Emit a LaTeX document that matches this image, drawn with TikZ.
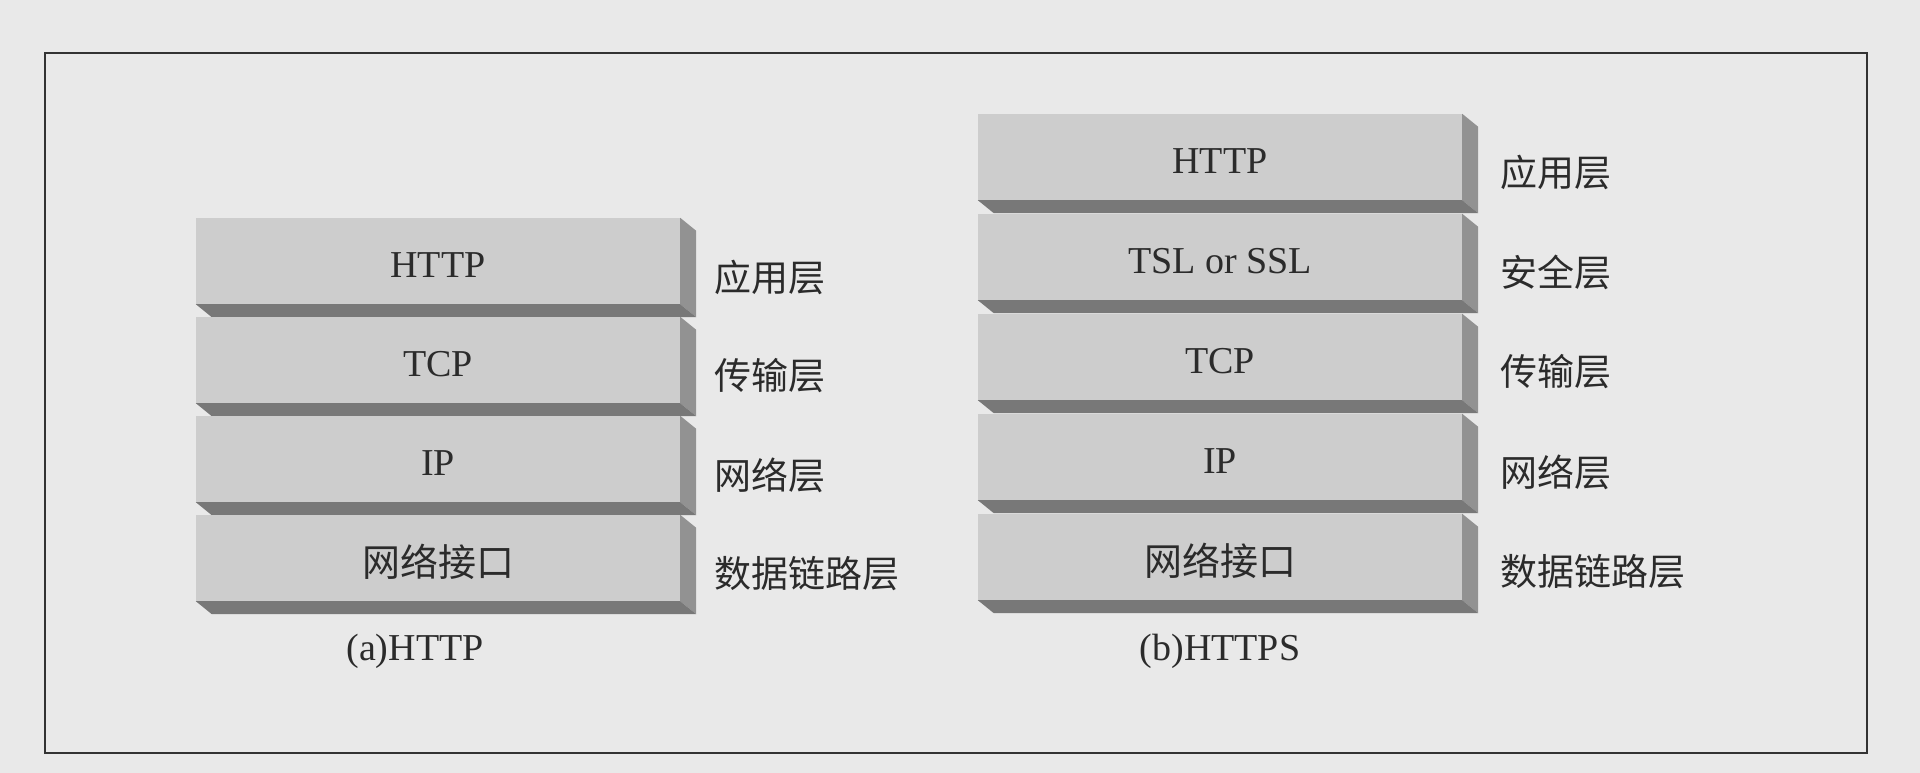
\documentclass[tikz,border=0pt]{standalone}
\usepackage{fontspec}
\setmainfont{Liberation Serif}
\newfontfamily\cjk{Noto Sans CJK SC}
\usetikzlibrary{calc}
\definecolor{paper}{HTML}{E9E9E9}
\definecolor{facec}{HTML}{CDCDCD}
\definecolor{sidec}{HTML}{929292}
\definecolor{botc}{HTML}{787878}
\definecolor{inkc}{HTML}{2B2B2B}
\definecolor{framec}{HTML}{333333}
\tikzset{
  layerbox/.style={fill=facec, minimum width=484pt, minimum height=86pt, inner sep=0pt,
    font=\fontsize{38}{40}\selectfont, text=inkc},
  layertext/.style={inner sep=0pt, font=\fontsize{38}{40}\selectfont, text=inkc},
  sideface/.style={fill=sidec},
  botface/.style={fill=botc},
  layerlabel/.style={anchor=west, inner sep=0pt, font=\cjk\fontsize{37}{40}\selectfont, text=inkc},
  caption/.style={inner sep=0pt, font=\fontsize{38}{40}\selectfont, text=inkc}
}
% #1 name, #2 x centre, #3 y centre, #4 text
\newcommand\drawlayer[4]{%
  \node[layerbox] (#1) at (#2,#3) {};
  \node[layertext] (#1t) at ($(#1.center)+(0,4)$) {#4};
  \fill[sideface] (#1.north east) -- ++(16,13) -- ($(#1.south east)+(16,13)$) -- (#1.south east) -- cycle;
  \fill[botface] (#1.south west) -- (#1.south east) -- ++(16,13) -- ($(#1.south west)+(16,13)$) -- cycle;
}
\begin{document}
\begin{tikzpicture}[x=1pt,y=-1pt]
\fill[paper] (0,0) rectangle (1920,773);
\useasboundingbox (0,0) rectangle (1920,773);
\draw[framec, line width=2.2pt] (45,53) rectangle (1867,753);

% (a) HTTP
\drawlayer{ahttp}{438}{261}{HTTP}
\drawlayer{atcp}{438}{360}{TCP}
\drawlayer{aip}{438}{459}{IP}
\drawlayer{anet}{438}{558}{\cjk 网络接口}
\node[layerlabel] (aapp) at (714,277) {应用层};
\node[layerlabel] (atrans) at (714,376) {传输层};
\node[layerlabel] (anetl) at (714,475) {网络层};
\node[layerlabel] (alink) at (714,574) {数据链路层};
\node[caption] (acap) at (415,651) {(a)HTTP};

% (b) HTTPS
\drawlayer{bhttp}{1220}{157}{HTTP}
\drawlayer{bssl}{1220}{257}{TSL or SSL}
\drawlayer{btcp}{1220}{357}{TCP}
\drawlayer{bip}{1220}{457}{IP}
\drawlayer{bnet}{1220}{557}{\cjk 网络接口}
\node[layerlabel] (bapp) at (1500,172) {应用层};
\node[layerlabel] (bsec) at (1500,272) {安全层};
\node[layerlabel] (btrans) at (1500,372) {传输层};
\node[layerlabel] (bnetl) at (1500,472) {网络层};
\node[layerlabel] (blink) at (1500,572) {数据链路层};
\node[caption] (bcap) at (1220,651) {(b)HTTPS};
\end{tikzpicture}
\end{document}
